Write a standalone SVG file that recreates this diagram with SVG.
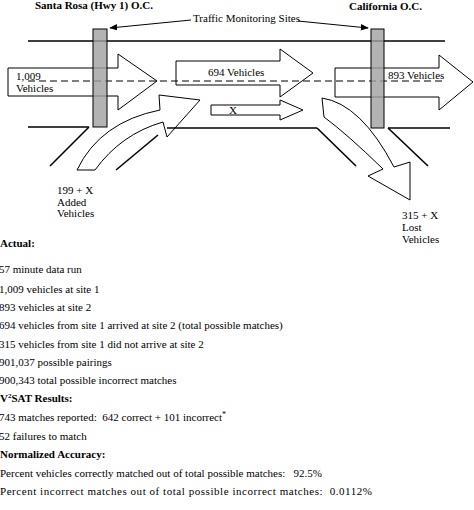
<svg xmlns="http://www.w3.org/2000/svg" width="474" height="510" viewBox="0 0 474 510">
<style>
text{font-family:"Liberation Serif","Times New Roman",serif;fill:#000;white-space:pre}
.lbl{font-size:11px}
.body{font-size:11px}
.hd{font-size:11px;font-weight:bold}
.road{stroke:#000;stroke-width:1.6;fill:none}
.arr{stroke:#000;stroke-width:1;fill:none}
.bar{fill:#a0a0a0;fill-opacity:0.8;stroke:#000;stroke-width:1}
</style>
<defs>
<marker id="ah" viewBox="0 0 10 10" refX="9" refY="5" markerWidth="8" markerHeight="8" orient="auto-start-reverse" markerUnits="userSpaceOnUse">
<path d="M0,1 L10,5 L0,9 Z" fill="#000"/>
</marker>
</defs>
<rect width="474" height="510" fill="#fff"/>

<g id="road">
<line class="road" x1="28" y1="41" x2="445" y2="41" style="stroke-width:1.3"/>
<line class="road" x1="28" y1="127" x2="89" y2="127"/>
<line class="road" x1="89" y1="127" x2="50" y2="166"/>
<line class="road" x1="116" y1="170" x2="158" y2="135"/>
<line class="road" x1="167" y1="128" x2="317" y2="128"/>
<line class="road" x1="317" y1="128" x2="356" y2="166"/>
<line class="road" x1="388" y1="128" x2="450" y2="128"/>
<line class="road" x1="388" y1="128" x2="428" y2="166"/>
<line x1="28" y1="81" x2="445" y2="81" stroke="#000" stroke-width="1" stroke-dasharray="7,4"/>
</g>

<g id="flow-in">
<polygon class="arr" points="8,68 118,68 118,54 157,81 118,110 118,96 8,96"/>
<text class="lbl" x="16" y="80">1,009</text>
<text class="lbl" x="16" y="92">Vehicles</text>
</g>

<g id="flow-matched">
<polygon class="arr" points="176,61 280,61 280,49 313,73 280,97 280,85 176,85"/>
<text class="lbl" x="208" y="76">694 Vehicles</text>
</g>

<g id="flow-x">
<polygon class="arr" points="211,105 280,105 280,100 303,110 280,120 280,115 211,115"/>
<text class="lbl" x="229" y="114">X</text>
</g>

<g id="flow-out">
<polygon class="arr" points="335,68 439,68 439,55 473,82 439,110 439,97 335,97"/>
<text class="lbl" x="388" y="79">893 Vehicles</text>
</g>

<g id="flow-added">
<path class="arr" d="M77,170 Q100,122 160,110 L159,95 L200,100 L167,137 L163,122 Q121,134 95,170 Z"/>
<text class="lbl" x="57" y="194">199 + X</text>
<text class="lbl" x="57" y="205.5">Added</text>
<text class="lbl" x="57" y="217">Vehicles</text>
</g>

<g id="flow-lost">
<path class="arr" d="M322,98 Q361,104 394,167 L410,162 L410,200 L368,176 L383,169 Q347,134 324,117 Z"/>
<text class="lbl" x="402" y="219">315 + X</text>
<text class="lbl" x="402" y="231">Lost</text>
<text class="lbl" x="402" y="243">Vehicles</text>
</g>

<g id="site1">
<rect class="bar" x="93" y="29" width="14" height="98"/>
<text class="hd" x="35" y="9">Santa Rosa (Hwy 1) O.C.</text>
</g>

<g id="site2">
<rect class="bar" x="371" y="29" width="13" height="99"/>
<text class="hd" x="349" y="9.5">California O.C.</text>
</g>

<g id="connectors">
<line x1="191" y1="20" x2="110" y2="28" stroke="#000" stroke-width="1" marker-end="url(#ah)"/>
<line x1="298" y1="21" x2="368" y2="28" stroke="#000" stroke-width="1" marker-end="url(#ah)"/>
</g>
<g id="monitor-label">
<text class="lbl" x="193" y="22">Traffic Monitoring Sites</text>
</g>

<g id="summary">
<text class="hd" x="0" y="247">Actual:</text>
<text class="body" x="-1" y="273">57 minute data run</text>
<text class="body" x="-1" y="293">1,009 vehicles at site 1</text>
<text class="body" x="-1" y="311">893 vehicles at site 2</text>
<text class="body" x="-1" y="329">694 vehicles from site 1 arrived at site 2 (total possible matches)</text>
<text class="body" x="-1" y="348">315 vehicles from site 1 did not arrive at site 2</text>
<text class="body" x="-1" y="366">901,037 possible pairings</text>
<text class="body" x="-1" y="384">900,343 total possible incorrect matches</text>
<text class="hd" x="0" y="402">V<tspan font-size="7" dy="-4">2</tspan><tspan dy="4">SAT Results:</tspan></text>
<text class="body" x="-1" y="421">743 matches reported:  642 correct + 101 incorrect<tspan font-size="8" dy="-4">*</tspan></text>
<text class="body" x="-1" y="440">52 failures to match</text>
<text class="hd" x="0" y="458">Normalized Accuracy:</text>
<text class="body" x="0" y="477">Percent vehicles correctly matched out of total possible matches:   92.5%</text>
<text class="body" x="0" y="495" textLength="372" lengthAdjust="spacing">Percent incorrect matches out of total possible incorrect matches:  0.0112%</text>
</g>
</svg>
